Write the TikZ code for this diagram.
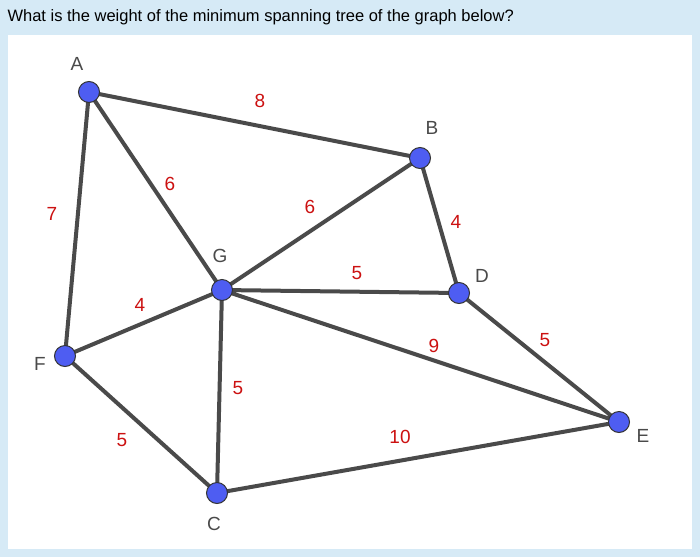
\documentclass[tikz,border=0pt]{standalone}
\usepackage{fontspec}
\setmainfont{Liberation Sans}
\definecolor{bgblue}{HTML}{D6EAF6}
\definecolor{edgec}{HTML}{4A4A4A}
\definecolor{nodec}{HTML}{4E5DF2}
\definecolor{wred}{HTML}{CC1111}
\begin{document}
\begin{tikzpicture}[x=1pt,y=-1pt,
  vtx/.style={circle,fill=nodec,draw=edgec!70!black,line width=1pt,minimum size=21pt,inner sep=0pt},
  edge/.style={draw=edgec,line width=4pt},
  wt/.style={text=wred,font=\fontsize{19}{19}\selectfont},
  lbl/.style={text=edgec,font=\fontsize{19}{19}\selectfont}]
\fill[bgblue] (0,0) rectangle (700,557);
\fill[white] (8,35) rectangle (692,549);
\useasboundingbox (0,0) rectangle (700,557);
\node[anchor=west,font=\fontsize{16.5}{16.5}\selectfont] (title) at (4,17) {What is the weight of the minimum spanning tree of the graph below?};
\coordinate (A) at (89,92);
\coordinate (B) at (420,158);
\coordinate (G) at (222,290);
\coordinate (D) at (459,293);
\coordinate (F) at (65,356);
\coordinate (E) at (619,422);
\coordinate (C) at (217,493);
\draw[edge] (A)--(B) (A)--(G) (A)--(F) (G)--(B) (B)--(D) (G)--(D) (F)--(G) (G)--(E) (D)--(E) (G)--(C) (F)--(C) (C)--(E);
\foreach \n in {A,B,G,D,F,E,C} \node[vtx] (v\n) at (\n) {};
\node[lbl] (lA) at (77,64) {A};
\node[lbl] (lB) at (432,128) {B};
\node[lbl] (lG) at (220,256) {G};
\node[lbl] (lD) at (482,276) {D};
\node[lbl] (lF) at (40,364) {F};
\node[lbl] (lE) at (643,436) {E};
\node[lbl] (lC) at (214,524) {C};
\node[wt] (w1) at (260,101) {8};
\node[wt] (w2) at (170,184) {6};
\node[wt] (w3) at (52,214) {7};
\node[wt] (w4) at (310,207) {6};
\node[wt] (w5) at (456,222) {4};
\node[wt] (w6) at (357,273) {5};
\node[wt] (w7) at (140,305) {4};
\node[wt] (w8) at (434,346) {9};
\node[wt] (w9) at (545,340) {5};
\node[wt] (w10) at (238,388) {5};
\node[wt] (w11) at (122,440) {5};
\node[wt] (w12) at (400,437) {10};
\end{tikzpicture}
\end{document}
